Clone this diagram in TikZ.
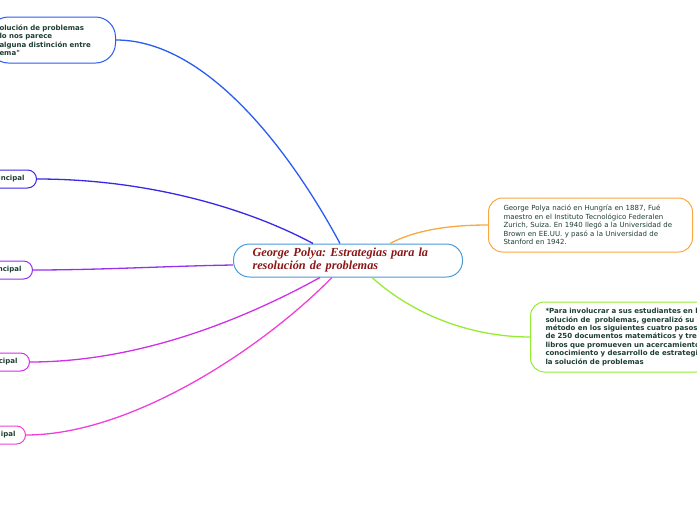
\documentclass[tikz,border=0pt]{standalone}
\usepackage{fontspec}
\newfontfamily\verd{DejaVu Sans}
\newfontfamily\geo{Liberation Serif}
\usetikzlibrary{calc}
\definecolor{txt}{RGB}{30,62,52}
\definecolor{ctxt}{RGB}{140,22,22}
\definecolor{cblue}{RGB}{74,154,216}
\definecolor{tlblue}{RGB}{42,92,240}
\definecolor{indig}{RGB}{58,40,232}
\definecolor{viol}{RGB}{150,48,240}
\definecolor{magen}{RGB}{208,48,232}
\definecolor{pinkm}{RGB}{240,64,216}
\definecolor{orng}{RGB}{248,168,64}
\definecolor{lgreen}{RGB}{150,236,50}
\begin{document}
\frenchspacing
\begin{tikzpicture}[x=1pt,y=-1pt,
  leaf/.style={draw, line width=1pt, fill=white, text=txt, align=left,
    font=\verd\fontsize{7}{8.5}\selectfont},
  small/.style={leaf, rounded corners=9pt, minimum height=18pt, inner ysep=0pt,
    font=\verd\bfseries\fontsize{7}{8.5}\selectfont},
  link/.style={line width=1.3pt}]
\useasboundingbox (0,0) rectangle (697,520);
\clip (0,0) rectangle (697,520);

% central node
\node[draw=cblue, line width=1pt, rounded corners=16pt, fill=white, anchor=west,
  minimum width=229pt, minimum height=33pt, text width=191pt, inner xsep=19pt,
  inner ysep=0pt, align=left, text=ctxt,
  font=\geo\bfseries\itshape\fontsize{12.3}{13}\selectfont] (c) at (233,260.5)
  {George Polya: Estrategias para la\\resolución de problemas};

% top-left node
\node[leaf, draw=tlblue, rounded corners=20pt, anchor=east, text width=105pt,
  inner xsep=11pt, minimum height=46pt, inner ysep=0pt,
  font=\verd\bfseries\fontsize{7}{8.5}\selectfont] (tl) at (116,40)
  {olución de problemas\\lo nos parece\\alguna distinción entre\\ema"};

% small left nodes
\node[small, draw=indig, anchor=east, inner xsep=12pt] (inc) at (37,179) {incipal};
\node[small, draw=viol, anchor=east, inner xsep=11pt] (nc) at (33,270) {ncipal};
\node[small, draw=magen, anchor=east, inner xsep=12pt] (ci) at (30,362) {cipal};
\node[small, draw=pinkm, anchor=east, inner xsep=10pt] (ip) at (26,435) {ipal};

% orange node
\node[leaf, draw=orng, rounded corners=14pt, anchor=west, text width=174pt,
  inner xsep=15pt, minimum height=54pt, inner ysep=0pt] (or) at (488,225)
  {George Polya nació en Hungría en 1887, Fué\\
   maestro en el Instituto Tecnológico Federalen\\
   Zurich, Suiza. En 1940 llegó a la Universidad de\\
   Brown en EE.UU. y pasó a la Universidad de\\
   Stanford en 1942.};

% green node
\node[leaf, draw=lgreen, rounded corners=14pt, anchor=west, text width=210pt,
  inner xsep=15pt, minimum height=70pt, inner ysep=0pt,
  font=\verd\bfseries\fontsize{7}{8.4}\selectfont] (gr) at (530,337)
  {*Para involucrar a sus estudiantes en la\\
   solución de \ problemas, generalizó su\\
   método en los siguientes cuatro pasos\\
   de 250 documentos matemáticos y tres\\
   libros que promueven un acercamiento\\
   conocimiento y desarrollo de estrategias\\
   la solución de problemas};

% connectors
\draw[link, tlblue] (tl.east) .. controls ([xshift=94pt]tl.east) and ([xshift=62pt,yshift=84pt]c.north west) .. ([xshift=107pt]c.north west);
\draw[link, indig] (inc.east) .. controls ([xshift=113pt]inc.east) and ([xshift=17pt,yshift=34pt]c.north west) .. ([xshift=80pt]c.north west);
\draw[link, viol] (nc.east) .. controls ([xshift=67pt]nc.east) and ([xshift=-63pt,yshift=-5.5pt]c.west) .. ([yshift=-4.5pt]c.west);
\draw[link, magen] (ci.east) .. controls ([xshift=120pt]ci.east) and ([xshift=27pt,yshift=-33pt]c.south west) .. ([xshift=87pt]c.south west);
\draw[link, pinkm] (ip.east) .. controls ([xshift=104pt]ip.east) and ([xshift=27pt,yshift=-73pt]c.south west) .. ([xshift=99pt]c.south west);
\draw[link, orng] ([xshift=157pt]c.north west) .. controls ([xshift=187pt,yshift=16pt]c.north west) and ([xshift=-28pt]or.west) .. (or.west);
\draw[link, lgreen] ([xshift=139pt]c.south west) .. controls ([xshift=187pt,yshift=-43pt]c.south west) and ([xshift=-50pt]gr.west) .. (gr.west);
\end{tikzpicture}
\end{document}
